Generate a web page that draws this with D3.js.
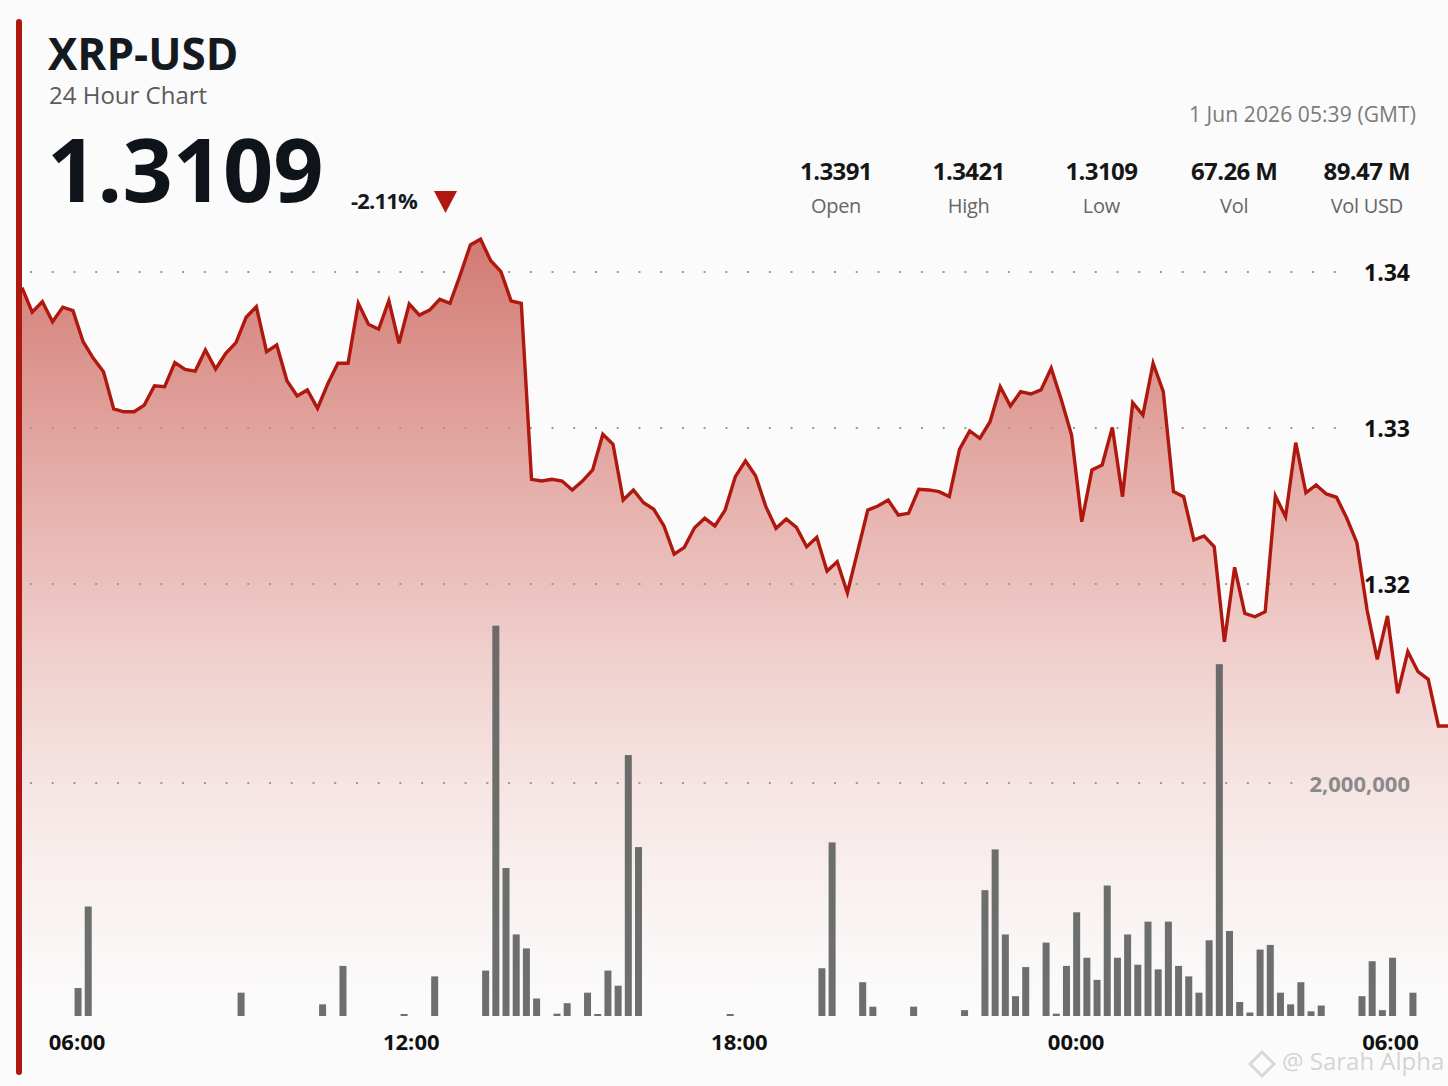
<!DOCTYPE html>
<html>
<head>
<meta charset="utf-8">
<script src="https://cdn.jsdelivr.net/npm/d3@7"></script>
<style>
  html, body { margin: 0; padding: 0; background: #fbfbfb; }
  svg { display: block; font-family: "Open Sans", "Noto Sans", sans-serif; }
</style>
</head>
<body>
<div id="chart"></div>
<script>
// price every ~11 minutes, from 05:00 to 05:39
var prices = [
  1.3390, 1.33742, 1.33810, 1.33681, 1.33774, 1.33752, 1.33553, 1.33447, 1.33361, 1.33122,
  1.33104, 1.33104, 1.33147, 1.33271, 1.33265, 1.33419, 1.33376, 1.33365, 1.33500, 1.33378,
  1.33479, 1.33547, 1.33710, 1.33778, 1.33489, 1.33532, 1.33303, 1.33205, 1.33244, 1.33126,
  1.33282, 1.33415, 1.33415, 1.33799, 1.33665, 1.33633, 1.33816, 1.33543, 1.33795, 1.33724,
  1.33756, 1.33825, 1.33799, 1.33981, 1.34173, 1.34210, 1.34072, 1.34002, 1.33814, 1.33799,
  1.32671, 1.32660, 1.32671, 1.32660, 1.32603, 1.32660, 1.32731, 1.32960, 1.32896, 1.32538,
  1.32603, 1.32521, 1.32479, 1.32372, 1.32192, 1.32235, 1.32361, 1.32421, 1.32372, 1.32474,
  1.32688, 1.32790, 1.32692, 1.32496, 1.32357, 1.32417, 1.32363, 1.32239, 1.32299, 1.32083,
  1.32143, 1.31944, 1.32207, 1.32474, 1.32500, 1.32538, 1.32442, 1.32453, 1.32607, 1.32603,
  1.32592, 1.32560, 1.32863, 1.32981, 1.32934, 1.33040, 1.33265, 1.33141, 1.33233, 1.33218,
  1.33244, 1.33383, 1.33179, 1.32955, 1.32399, 1.32731, 1.32763, 1.33004, 1.32560, 1.33162,
  1.33083, 1.33415, 1.33233, 1.32592, 1.32560, 1.32282, 1.32308, 1.32239, 1.31630, 1.32107,
  1.31812, 1.31790, 1.31822, 1.32564, 1.32431, 1.32906, 1.32585, 1.32635, 1.32577, 1.32556,
  1.32423, 1.32265, 1.31833, 1.31517, 1.31795, 1.31299, 1.31566, 1.31438, 1.31389, 1.3109,
  1.3109
];

// volume per interval, in millions
var volumes = [
  0, 0, 0, 0, 0, 0.24, 0.94, 0, 0, 0,
  0, 0, 0, 0, 0, 0, 0, 0, 0, 0,
  0, 0.20, 0, 0, 0, 0, 0, 0, 0, 0.10,
  0, 0.43, 0, 0, 0, 0, 0, 0.01, 0, 0,
  0.34, 0, 0, 0, 0, 0.39, 3.35, 1.27, 0.70, 0.58,
  0.15, 0, 0.02, 0.11, 0, 0.20, 0.01, 0.39, 0.26, 2.24,
  1.45, 0, 0, 0, 0, 0, 0, 0, 0, 0.01,
  0, 0, 0, 0, 0, 0, 0, 0, 0.41, 1.49,
  0, 0, 0.29, 0.08, 0, 0, 0, 0.08, 0, 0,
  0, 0, 0.05, 0, 1.08, 1.43, 0.70, 0.17, 0.42, 0,
  0.63, 0.02, 0.43, 0.89, 0.50, 0.31, 1.12, 0.50, 0.70, 0.44,
  0.81, 0.40, 0.81, 0.43, 0.34, 0.20, 0.65, 3.02, 0.73, 0.12,
  0.03, 0.57, 0.61, 0.20, 0.10, 0.29, 0.04, 0.09, 0, 0,
  0, 0.17, 0.47, 0.05, 0.50, 0, 0.20, 0, 0, 0
];

var timeLabels = ["06:00", "12:00", "18:00", "00:00", "06:00"];
var timeAt = [5.35, 38.15, 70.35, 103.4, 134.25];   // position in sample index
var priceTicks = [1.32, 1.33, 1.34];
var volumeTicks = [2000000];

var statValues = ["1.3391", "1.3421", "1.3109", "67.26 M", "89.47 M"];
var statLabels = ["Open", "High", "Low", "Vol", "Vol USD"];

var W = 1448, H = 1086;
var red = "#af180e";

var svg = d3.select("#chart").append("svg")
  .attr("width", W)
  .attr("height", H);

svg.append("rect").attr("width", W).attr("height", H).attr("fill", "#fbfbfb");

// Scales
var x = d3.scaleLinear()
  .domain([0, prices.length - 1])
  .range([22, 1448.6]);

var y = d3.scaleLinear()
  .domain([1.32, 1.34])
  .range([584, 272]);

var yVol = d3.scaleLinear()
  .domain([0, 2000000])
  .range([1016, 783]);

// Gradient under the line
var defs = svg.append("defs");
var grad = defs.append("linearGradient")
  .attr("id", "areaFill")
  .attr("gradientUnits", "userSpaceOnUse")
  .attr("x1", 0).attr("y1", 235)
  .attr("x2", 0).attr("y2", 1020);
grad.append("stop").attr("offset", "0%").attr("stop-color", "#cd6a62").attr("stop-opacity", 0.9);
grad.append("stop").attr("offset", "45%").attr("stop-color", "#d97c74").attr("stop-opacity", 0.45);
grad.append("stop").attr("offset", "100%").attr("stop-color", "#f2c8c4").attr("stop-opacity", 0.0);

var area = d3.area()
  .x(function(d, i) { return x(i); })
  .y0(1018)
  .y1(function(d) { return y(d); });

svg.append("path")
  .datum(prices)
  .attr("d", area)
  .attr("fill", "url(#areaFill)");

// Dotted grid lines
svg.append("g")
  .selectAll("line")
  .data(priceTicks)
  .enter().append("line")
  .attr("x1", 30).attr("x2", 1345)
  .attr("y1", function(d) { return y(d); })
  .attr("y2", function(d) { return y(d); })
  .attr("stroke", "#9a9a9a")
  .attr("stroke-width", 2.2)
  .attr("stroke-dasharray", "2 19.73");

svg.append("g")
  .selectAll("line")
  .data(volumeTicks)
  .enter().append("line")
  .attr("x1", 30).attr("x2", 1296)
  .attr("y1", function(d) { return yVol(d); })
  .attr("y2", function(d) { return yVol(d); })
  .attr("stroke", "#9a9a9a")
  .attr("stroke-width", 2.2)
  .attr("stroke-dasharray", "2 19.73");

// Volume bars
var barW = 7;
svg.append("g")
  .selectAll("rect")
  .data(volumes.map(function(v, i) { return {v: v, i: i}; }).filter(function(d) { return d.v > 0; }))
  .enter().append("rect")
  .attr("x", function(d) { return x(d.i + 0.5) - barW / 2; })
  .attr("y", function(d) { return Math.min(yVol(d.v * 1e6), 1014); })
  .attr("width", barW)
  .attr("height", function(d) { return 1016 - Math.min(yVol(d.v * 1e6), 1014); })
  .attr("fill", "#5f6361")
  .attr("opacity", 0.92);

// Price line
var line = d3.line()
  .x(function(d, i) { return x(i); })
  .y(function(d) { return y(d); });

svg.append("path")
  .datum(prices)
  .attr("d", line)
  .attr("fill", "none")
  .attr("stroke", red)
  .attr("stroke-width", 3.4)
  .attr("stroke-linejoin", "miter");

// Right axis labels
svg.append("g")
  .selectAll("text")
  .data(priceTicks)
  .enter().append("text")
  .attr("x", 1410)
  .attr("y", function(d) { return y(d) + 9; })
  .attr("text-anchor", "end")
  .attr("font-size", 23)
  .attr("font-weight", 700)
  .attr("fill", "#111")
  .text(function(d) { return d.toFixed(2); });

svg.append("g")
  .selectAll("text")
  .data(volumeTicks)
  .enter().append("text")
  .attr("x", 1410)
  .attr("y", function(d) { return yVol(d) + 9; })
  .attr("text-anchor", "end")
  .attr("font-size", 22)
  .attr("font-weight", 700)
  .attr("fill", "#8a8a8a")
  .text(d3.format(","));

// Time axis
var xAxis = d3.axisBottom(x)
  .tickValues(timeAt)
  .tickFormat(function(d, i) { return timeLabels[i]; })
  .tickSize(0)
  .tickPadding(0);

var gx = svg.append("g")
  .attr("transform", "translate(0,1035)")
  .call(xAxis);
gx.select(".domain").remove();
gx.selectAll("text")
  .attr("font-family", "'Open Sans', 'Noto Sans', sans-serif")
  .attr("font-size", 22)
  .attr("font-weight", 700)
  .attr("fill", "#111")
  .attr("dy", "0.7em");

// Red left bar
svg.append("rect")
  .attr("x", 16).attr("y", 19)
  .attr("width", 6).attr("height", 1056)
  .attr("rx", 3)
  .attr("fill", red);

// Header
svg.append("text")
  .attr("x", 48).attr("y", 70)
  .attr("font-size", 44)
  .attr("font-weight", 700)
  .attr("fill", "#151a21")
  .text("XRP-USD");

svg.append("text")
  .attr("x", 49).attr("y", 104)
  .attr("font-size", 24)
  .attr("fill", "#5a5a5a")
  .text("24 Hour Chart");

svg.append("text")
  .attr("x", 47).attr("y", 202)
  .attr("font-size", 88)
  .attr("font-weight", 700)
  .attr("fill", "#0f141b")
  .text("1.3109");

svg.append("text")
  .attr("x", 351).attr("y", 209)
  .attr("font-size", 22)
  .attr("font-weight", 700)
  .attr("fill", "#151a21")
  .attr("letter-spacing", -0.8)
  .text("-2.11%");

svg.append("path")
  .attr("d", d3.line()([[434, 191], [457, 191], [445.5, 213]]) + "Z")
  .attr("fill", red);

svg.append("text")
  .attr("x", 1416).attr("y", 122)
  .attr("text-anchor", "end")
  .attr("font-size", 21)
  .attr("fill", "#7a7a7a")
  .attr("letter-spacing", 0.1)
  .text("1 Jun 2026 05:39 (GMT)");

// Stats row
var stats = svg.append("g")
  .selectAll("g")
  .data(statValues)
  .enter().append("g")
  .attr("transform", function(d, i) { return "translate(" + (836 + i * 132.7) + ",0)"; });

stats.append("text")
  .attr("y", 180)
  .attr("text-anchor", "middle")
  .attr("font-size", 24)
  .attr("font-weight", 700)
  .attr("fill", "#161616")
  .attr("letter-spacing", -0.6)
  .text(function(d) { return d; });

stats.append("text")
  .attr("y", 213)
  .attr("text-anchor", "middle")
  .attr("font-size", 20)
  .attr("fill", "#666")
  .attr("letter-spacing", -0.3)
  .text(function(d, i) { return statLabels[i]; });

// Watermark
var wm = svg.append("g").attr("opacity", 0.55);
wm.append("path")
  .attr("d", "M1262,1052 L1274,1064 L1262,1076 L1250,1064 Z")
  .attr("fill", "none")
  .attr("stroke", "#bbb")
  .attr("stroke-width", 3);
wm.append("text")
  .attr("x", 1282).attr("y", 1070)
  .attr("font-size", 24)
  .attr("fill", "#b5b5b5")
  .text("@ Sarah Alpha");
</script>
</body>
</html>
